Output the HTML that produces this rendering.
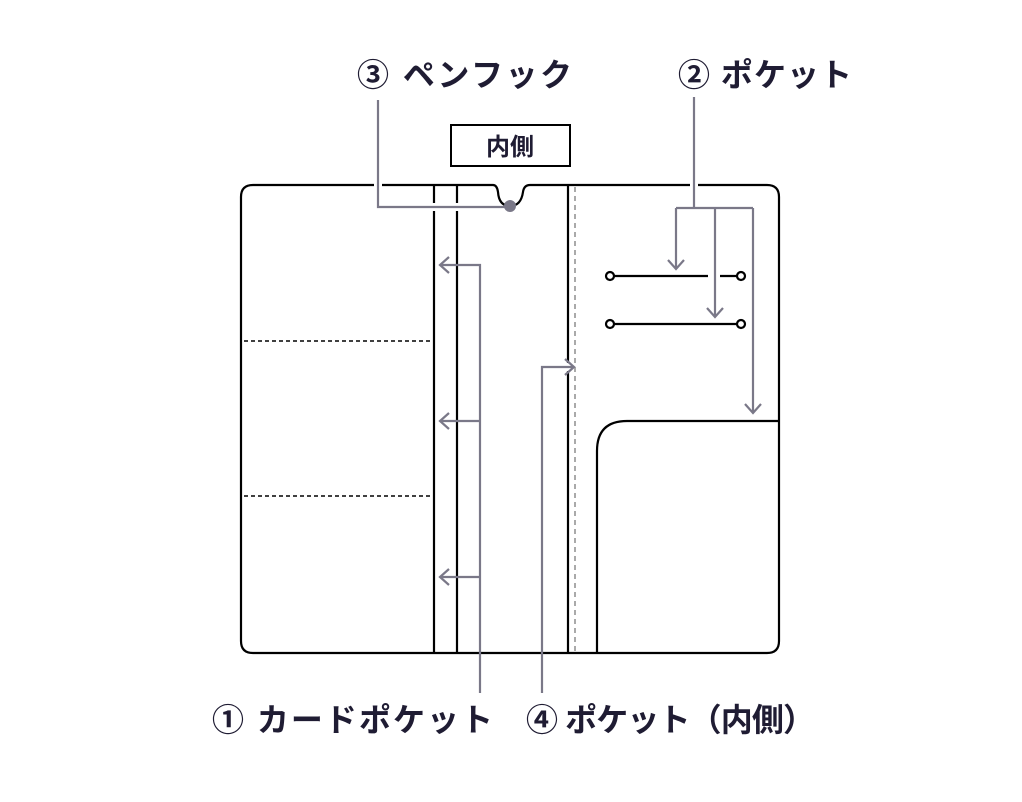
<!DOCTYPE html>
<html><head><meta charset="utf-8"><style>
html,body{margin:0;padding:0;background:#fff;}
svg{display:block;}
text{font-family:"Liberation Sans","Noto Sans CJK JP",sans-serif;font-weight:bold;fill:#1f1c33;}
</style></head><body>
<svg width="1022" height="802" viewBox="0 0 1022 802" xmlns="http://www.w3.org/2000/svg">
<g fill="none" stroke="#000" stroke-width="2.2">
<path d="M493 185 H253 Q241 185 241 197 V641 Q241 653 253 653 H767 Q779 653 779 641 V197 Q779 185 767 185 H530 Q524 185 523 192 Q521 206 510 206 Q499 206 498 192 Q497 185 493 185 Z"/>
<line x1="434" y1="185" x2="434" y2="653"/>
<line x1="457" y1="185" x2="457" y2="653"/>
<line x1="568" y1="185" x2="568" y2="653"/>
<path d="M597 653 V451 Q597 421 627 421 H779"/>
<line x1="614" y1="276" x2="708" y2="276"/>
<line x1="720" y1="276" x2="737" y2="276"/>
<line x1="614" y1="324" x2="737" y2="324"/>
<circle cx="610" cy="276" r="4" fill="#fff"/>
<circle cx="741" cy="276" r="4" fill="#fff"/>
<circle cx="610" cy="324" r="4" fill="#fff"/>
<circle cx="741" cy="324" r="4" fill="#fff"/>
</g>
<g stroke="#000" stroke-width="1.5" stroke-dasharray="4 3">
<line x1="244" y1="341" x2="430" y2="341"/>
<line x1="244" y1="496" x2="430" y2="496"/>
</g>
<line x1="575" y1="187" x2="575" y2="651" stroke="#aaa" stroke-width="2" stroke-dasharray="5 4"/>
<g stroke="#fff" stroke-width="8" fill="none">
<line x1="694" y1="180" x2="694" y2="190"/>
<line x1="378" y1="180" x2="378" y2="190"/>
<line x1="430" y1="207" x2="461" y2="207"/>
<line x1="565" y1="367" x2="572" y2="367"/>
</g>
<g stroke="#7a7888" stroke-width="2.2" fill="none">
<path d="M378 100 V207 H510"/>
<path d="M694 97 V208"/>
<path d="M676 208 H753"/>
<path d="M676 208 V268 M668 260 L676 269 L684 260"/>
<path d="M715 208 V316 M707 308 L715 317 L723 308"/>
<path d="M753 208 V412 M745 404 L753 413 L761 404"/>
<path d="M480 693 V265 H441 M449 257 L440 265 L449 273"/>
<path d="M480 421 H441 M449 413 L440 421 L449 429"/>
<path d="M480 577 H441 M449 569 L440 577 L449 585"/>
<path d="M542 693 V367 H573 M565 359 L574 367 L565 375"/>
</g>
<circle cx="510" cy="206" r="6" fill="#7a7888"/>
<rect x="451" y="125" width="119" height="41" fill="none" stroke="#000" stroke-width="2"/>
<text x="510" y="155" font-size="24" text-anchor="middle">内側</text>
<text x="357" y="86" font-size="32" textLength="215" lengthAdjust="spacing">③ ペンフック</text>
<text x="678" y="86" font-size="32" textLength="174" lengthAdjust="spacing">② ポケット</text>
<text x="212" y="731" font-size="32" textLength="281" lengthAdjust="spacing">① カードポケット</text>
<text x="526" y="731" font-size="32" textLength="289" lengthAdjust="spacing">④ ポケット（内側）</text>
</svg>
</body></html>
